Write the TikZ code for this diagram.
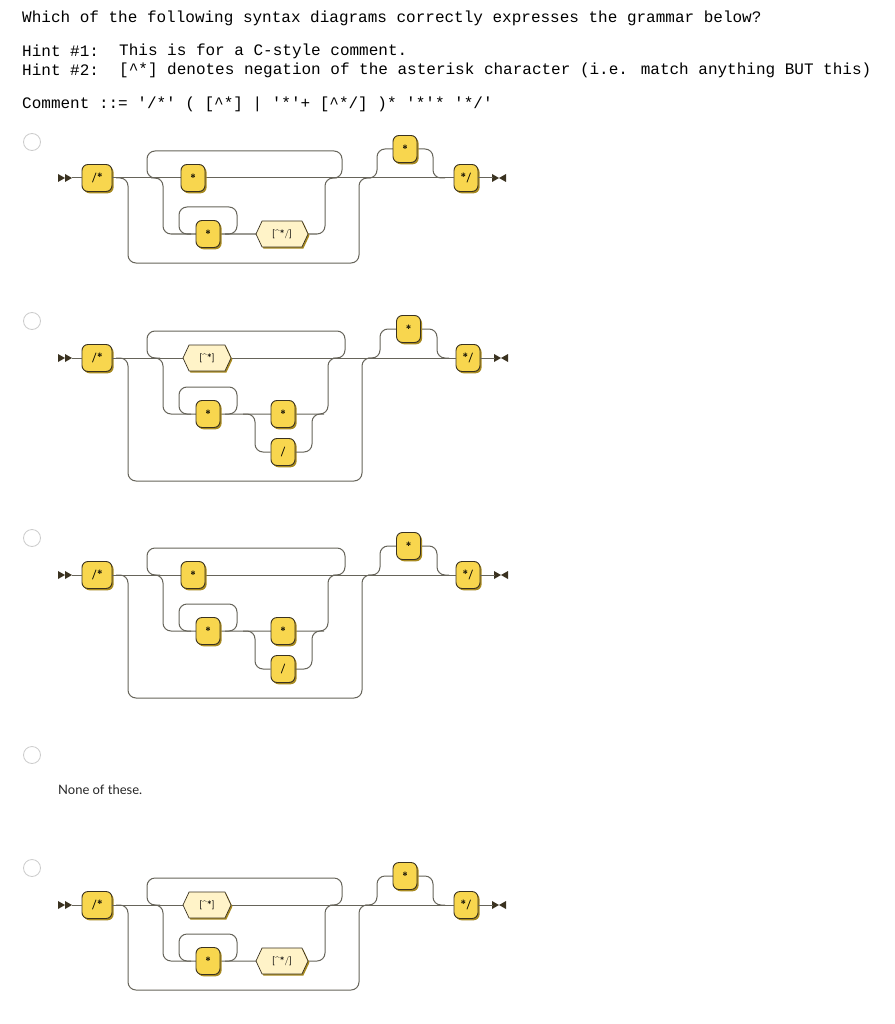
\documentclass[tikz,border=0pt]{standalone}
\usepackage{fontspec}
\setmainfont{Lato}
\newfontfamily\mono{Liberation Mono}
\usetikzlibrary{shapes.symbols,shadows}
\definecolor{boxy}{HTML}{F8D64E}
\definecolor{boxs}{HTML}{A88A20}
\definecolor{hexy}{HTML}{FFF3C8}
\definecolor{lin}{HTML}{66645A}
\definecolor{bord}{HTML}{3A3220}
\tikzset{
 term/.style={draw=bord,line width=0.9pt,fill=boxy,rounded corners=6pt,minimum height=27pt,minimum width=24pt,inner sep=2pt,font=\sffamily\bfseries\fontsize{10}{10}\selectfont,drop shadow={shadow xshift=1.6pt,shadow yshift=-1.8pt,fill=boxs,opacity=1}},
 ntrm/.style={draw=bord,line width=0.7pt,fill=hexy,shape=signal,signal to=east and west,signal pointer angle=130,minimum height=26pt,inner xsep=1pt,font=\sffamily\fontsize{9}{9}\selectfont,drop shadow={shadow xshift=1.4pt,shadow yshift=-1.6pt,fill=boxs,opacity=1}},
 wire/.style={draw=lin,line width=1pt,rounded corners=8pt},
 radio/.style={draw=black!20,fill=white,line width=0.8pt,circle,minimum size=17pt,inner sep=0pt},
 tip/.style={fill=bord,draw=none},
 htxt/.style={anchor=west,inner sep=0pt,font=\mono\fontsize{16}{16}\selectfont}
}
\newcommand\RRone{\def\bb{85}\def\tr{342}\def\br{359}\def\sr{325}\def\ex{466}\def\rl{377}\def\rr{433}}
\newcommand\RRtwo{\def\bb{123}\def\tr{345}\def\br{362}\def\sr{328}\def\ex{468}\def\rl{380}\def\rr{437}}
\newcommand\RRframe{%
 \coordinate (st) at (72,0);
 \fill[tip] (58,-4)--(65,0)--(58,4)--cycle (65,-4)--(72,0)--(65,4)--cycle;
 \node[term,minimum width=30pt] (open) at (97,0) {/*};
 \node[term] (close) at (\ex,0) {*/};
 \coordinate (en) at (\ex+27,0);
 \fill[tip] (\ex+26,-4)--(\ex+33,0)--(\ex+26,4)--cycle (\ex+40,-4)--(\ex+33,0)--(\ex+40,4)--cycle;
 \draw[wire] (st)--(open);
 \draw[wire] (open)--(close);
 \draw[wire] (close)--(en);
 \draw[wire] (116,0)--(128,0)--(128,\bb)--(\br,\bb)--(\br,0)--(\br+12,0);
 \draw[wire] (160,0)--(147,0)--(147,-27)--(\tr,-27)--(\tr,0)--(\tr-12,0);
 \draw[wire] (151,0)--(163,0)--(163,56)--(\sr,56)--(\sr,0)--(\sr+12,0);
 \draw[wire] (191,56)--(179,56)--(179,29)--(237,29)--(237,56)--(225,56);
 \node[term] (bs) at (208,56) {*};
 \draw[wire] (\rl-12,0)--(\rl,0)--(\rl,-29)--(\rr,-29)--(\rr,0)--(\rr+12,0);
 \node[term] (rs) at ({(\rl+\rr)/2},-29) {*};}
\newcommand\RRhexbot{\node[ntrm,minimum width=52pt] (nc) at (282,56) {[\^{}*/]};}
\newcommand\RRsplit{%
  \node[term] (s1) at (283,56) {*};
  \node[term] (s2) at (283,94) {/};
  \draw[wire] (243,56)--(255,56)--(255,94)--(s2.west);
  \draw[wire] (s2.east)--(312,94)--(312,56)--(324,56);}
\newcommand\RRtopbox{\node[term] (ta) at (193,0) {*};}
\newcommand\RRtophex{\node[ntrm,minimum width=48pt] (ta) at (207,0) {[\^{}*]};}
\begin{document}
\begin{tikzpicture}[x=1pt,y=-1pt]
\useasboundingbox[fill=white] (0,0) rectangle (894,1024);
\node[htxt] (q) at (22,18) {Which of the following syntax diagrams correctly expresses the grammar below?};
\node[htxt] (h1) at (22,51) {Hint \#1:};
\node[htxt] (h1t) at (119,51) {This is for a C-style comment.};
\node[htxt] (h2) at (22,70) {Hint \#2:};
\node[htxt] (h2t) at (119,70) {[\^{}*] denotes negation of the asterisk character (i.e. match anything BUT this)};
\node[htxt] (gr) at (22,104) {Comment ::= '/*' ( [\^{}*] | '*'+ [\^{}*/] )* '*'* '*/'};
\node[radio] (r1) at (32,142) {};
\node[radio] (r2) at (32,321) {};
\node[radio] (r3) at (32,538) {};
\node[radio] (r4) at (32,755) {};
\node[radio] (r5) at (32,868) {};
\node[anchor=west,inner sep=0pt,font=\fontsize{13}{13}\selectfont,text=black!85] (none) at (58,790) {None of these.};
\begin{scope}[shift={(0,178)}]\RRone\RRframe\RRtopbox\RRhexbot\end{scope}
\begin{scope}[shift={(0,358)}]\RRtwo\RRframe\RRtophex\RRsplit\end{scope}
\begin{scope}[shift={(0,575)}]\RRtwo\RRframe\RRtopbox\RRsplit\end{scope}
\begin{scope}[shift={(0,905)}]\RRone\RRframe\RRtophex\RRhexbot\end{scope}
\end{tikzpicture}
\end{document}
